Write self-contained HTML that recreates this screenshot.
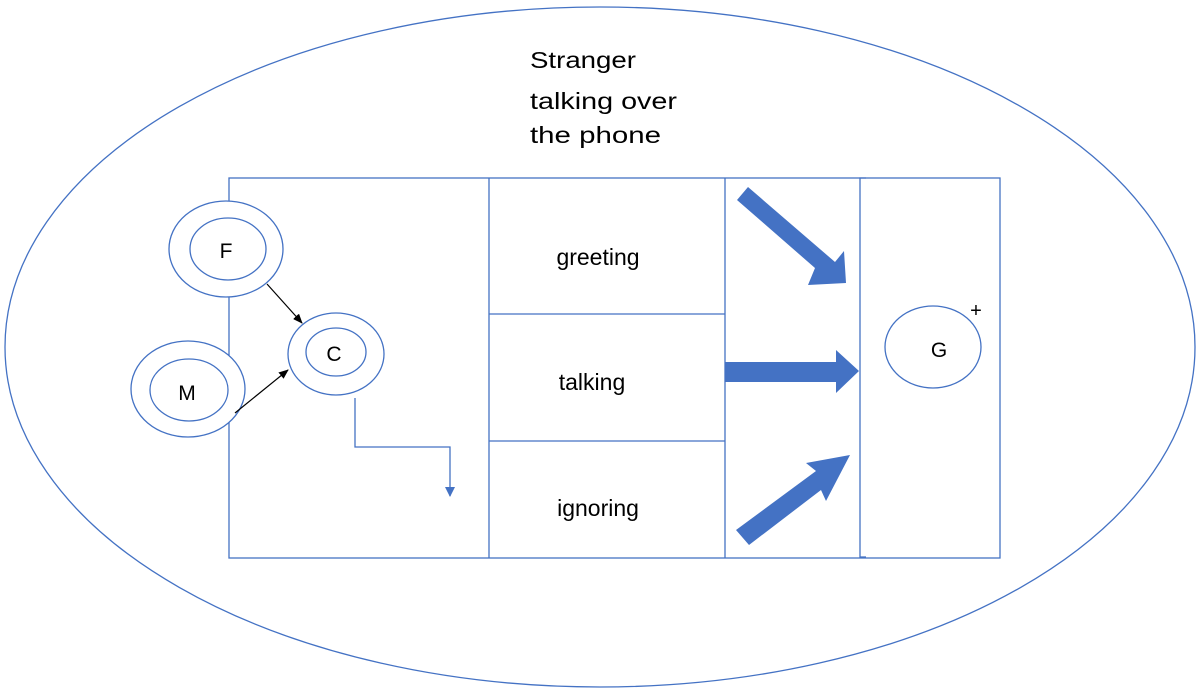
<!DOCTYPE html>
<html><head><style>body{margin:0;background:#fff}svg{display:block}</style></head>
<body>
<svg width="1200" height="694" viewBox="0 0 1200 694" xmlns="http://www.w3.org/2000/svg" font-family="Liberation Sans, sans-serif">
<defs>
<marker id="ak" markerWidth="10" markerHeight="8" refX="9" refY="4" orient="auto" markerUnits="userSpaceOnUse"><path d="M0,0 L10,4 L0,8 z" fill="#000"/></marker>
<marker id="ab" markerWidth="10" markerHeight="10" refX="5" refY="9" orient="0" markerUnits="userSpaceOnUse"><path d="M0,0 L10,0 L5,10 z" fill="#4472c4"/></marker>
</defs>
<g fill="none" stroke="#4472c4" stroke-width="1.3">
<ellipse cx="600" cy="347" rx="595" ry="340"/>
<rect x="229" y="178" width="771" height="380"/>
<line x1="489" y1="178" x2="489" y2="558"/>
<line x1="725" y1="178" x2="725" y2="558"/>
<line x1="489" y1="314" x2="725" y2="314"/>
<line x1="489" y1="441" x2="725" y2="441"/>
<path d="M866,178 H860 V557 H866"/>
</g>
<g fill="#fff" stroke="#4472c4" stroke-width="1.3">
<ellipse cx="226" cy="249" rx="57" ry="48"/>
<ellipse cx="228" cy="249" rx="38" ry="31"/>
<ellipse cx="188" cy="389" rx="57" ry="48"/>
<ellipse cx="189" cy="390" rx="39" ry="31"/>
<ellipse cx="336" cy="354" rx="48" ry="41"/>
<ellipse cx="336" cy="352" rx="30" ry="24"/>
<ellipse cx="933" cy="347" rx="48" ry="41"/>
</g>
<line x1="267" y1="284" x2="302" y2="323" stroke="#000" stroke-width="1.2" marker-end="url(#ak)"/>
<line x1="235" y1="413" x2="288" y2="370" stroke="#000" stroke-width="1.2" marker-end="url(#ak)"/>
<path d="M355,398 V447 H450 V496" fill="none" stroke="#4472c4" stroke-width="1.3" marker-end="url(#ab)"/>
<g fill="#4472c4">
<polygon points="748,187 737,200 815,268 808,285 846,283 844,251 835,262"/>
<polygon points="725,362 836,362 836,350 859,371 836,393 836,382 725,382"/>
<polygon points="736,530 749,545 821,490 826,501 850,455 806,463 816,471"/>
</g>
<g fill="#000" font-size="23">
<text x="530" y="68" textLength="106" lengthAdjust="spacingAndGlyphs">Stranger</text>
<text x="530" y="109" textLength="147" lengthAdjust="spacingAndGlyphs">talking over</text>
<text x="530" y="143" textLength="131" lengthAdjust="spacingAndGlyphs">the phone</text>
<text x="598" y="265" text-anchor="middle">greeting</text>
<text x="592" y="390" text-anchor="middle">talking</text>
<text x="598" y="516" text-anchor="middle">ignoring</text>
<text x="226" y="258" text-anchor="middle" font-size="21">F</text>
<text x="187" y="400" text-anchor="middle" font-size="21">M</text>
<text x="334" y="361" text-anchor="middle" font-size="21">C</text>
<text x="939" y="357" text-anchor="middle" font-size="21">G</text>
<text x="976" y="317" text-anchor="middle" font-size="20">+</text>
</g>
</svg>
</body></html>
